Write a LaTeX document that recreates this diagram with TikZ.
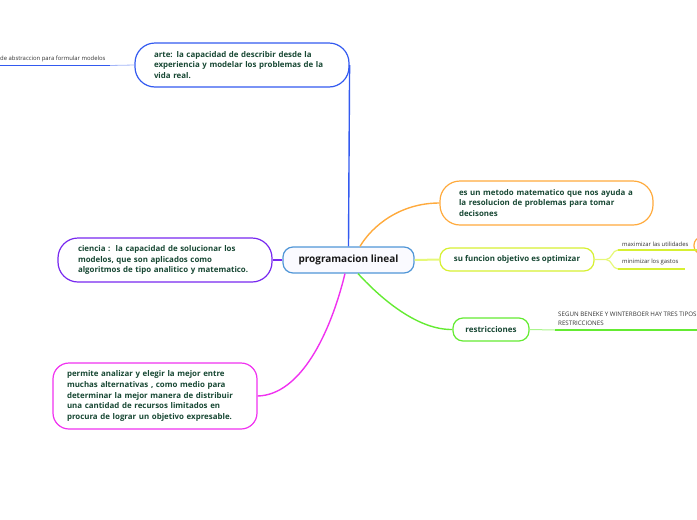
\documentclass[tikz,border=0pt]{standalone}
\usepackage{fontspec}
\setmainfont{Open Sans}
\usetikzlibrary{calc}
\definecolor{txt}{RGB}{24,72,52}
\definecolor{cblue}{RGB}{51,90,240}
\definecolor{corange}{RGB}{255,170,60}
\definecolor{cyellow}{RGB}{215,240,50}
\definecolor{cyellowl}{RGB}{230,248,120}
\definecolor{cgreen}{RGB}{100,235,50}
\definecolor{cgreenl}{RGB}{170,245,140}
\definecolor{cpurple}{RGB}{120,40,240}
\definecolor{cmagenta}{RGB}{240,50,240}
\definecolor{ccentral}{RGB}{80,150,215}
\begin{document}
\begin{tikzpicture}[x=1pt,y=-1pt,
  topic/.style={draw, line width=1.2pt, rounded corners=16pt, fill=white, text=txt,
    font=\fontsize{7.9}{10.9}\selectfont\bfseries, align=left, inner ysep=2pt},
  small/.style={font=\fontsize{5.9}{9}\selectfont, text=black!80, inner sep=0pt, align=left},
  conn/.style={line width=1.4pt}]
\useasboundingbox (0,0) rectangle (697,520);
\begin{scope}
\clip (0,0) rectangle (697,520);

% central
\node[draw=ccentral, line width=1.2pt, rounded corners=10pt, fill=blue!2,
  minimum width=131pt, minimum height=26pt, inner sep=0pt,
  font=\fontsize{10}{12}\selectfont\bfseries, text=black!90] (center) at (348.5,260) {programacion lineal};

% arte
\node[topic, draw=cblue, text width=176pt, inner xsep=19pt, minimum height=44pt, rounded corners=20pt] (arte) at (242,65)
 {arte: la capacidad de describir desde la\\experiencia y modelar los problemas de la\\vida real.};

% orange
\node[topic, draw=corange, text width=175pt, inner xsep=19pt, minimum height=44pt, rounded corners=20pt] (orange) at (546.5,203)
 {es un metodo matematico que nos ayuda a\\la resolucion de problemas para tomar\\decisones};

% yellow
\node[topic, draw=cyellow, minimum width=154pt, minimum height=23pt, inner sep=0pt, rounded corners=10pt, align=center] (yellow) at (517,259.5)
 {su funcion objetivo es optimizar};

% green
\node[topic, draw=cgreen, minimum width=76pt, minimum height=23pt, inner sep=0pt, rounded corners=10pt, align=center,
  font=\fontsize{8}{10}\selectfont\bfseries] (green) at (491,329.5)
 {restricciones};

% purple
\node[topic, draw=cpurple, text width=174pt, inner xsep=20pt, minimum height=44pt, rounded corners=20pt] (ciencia) at (165,260)
 {ciencia :\ \ la capacidad de solucionar los\\modelos, que son aplicados como\\algoritmos de tipo analitico y matematico.};

% magenta
\node[topic, draw=cmagenta, text width=176pt, inner xsep=14pt, minimum height=66pt, rounded corners=16pt] (permite) at (155,396)
 {permite analizar y elegir la mejor entre\\muchas alternativas , como medio para\\determinar la mejor manera de distribuir\\una cantidad de recursos limitados en\\procura de lograr un objetivo expresable.};

% partial orange node at right edge
\node[draw=corange, line width=1.2pt, rounded corners=8pt, minimum width=60pt, minimum height=17pt, inner sep=0pt] (edge) at (724,245.5) {};

% connectors
\draw[conn, cblue] (arte.east) -- (center.north);
\draw[conn, corange] ($(center.north)+(11.5,0)$) .. controls (372,226) and (400,203) .. (orange.west);
\draw[conn, cyellowl, line width=2pt] (center.east) -- (yellow.west);
\draw[conn, cgreen] ($(center.south)+(9.5,0)$) .. controls (385,303) and (420,330) .. (green.west);
\draw[conn, cmagenta] ($(center.south)+(-3.5,0)$) .. controls (330,335) and (300,395) .. (permite.east);
\draw[conn, cpurple] (center.west) -- (ciencia.east);

% arte left branch
\coordinate (al) at (110,65.5);
\coordinate (aend) at (0,65.5);
\draw[line width=0.8pt, cblue!45] (arte.west) -- (al);
\draw[line width=1.6pt, cblue] (al) -- (aend);
\node[small, anchor=south west] (atext) at (0,62.5) {de abstraccion para formular modelos};

% yellow sub branches
\coordinate (yb) at (606,259.5);
\coordinate (ym1) at (618,250);
\coordinate (ym2) at (697,250);
\coordinate (yn1) at (618,269);
\coordinate (yn2) at (685,269);
\draw[line width=1.2pt, cyellowl] (yellow.east) -- (yb) .. controls (612,259.5) and (612,250) .. (ym1);
\draw[line width=1.2pt, cyellowl] (yb) .. controls (612,259.5) and (612,269) .. (yn1);
\draw[line width=2pt, cyellow] (ym1) -- (ym2);
\draw[line width=2pt, cyellow] (yn1) -- (yn2);
\node[small, anchor=south west] (maxt) at (622,246.5) {maximizar las utilidades};
\node[small, anchor=south west] (mint) at (622,265.5) {minimizar los gastos};

% green sub branch
\coordinate (gb) at (555,330);
\coordinate (gend) at (697,330);
\draw[line width=1pt, cgreenl] (green.east) -- (gb);
\draw[line width=2pt, cgreen] (gb) -- (gend);
\node[small, anchor=south west, font=\fontsize{6.2}{9.2}\selectfont] (segun) at (558,325.5) {SEGUN BENEKE Y WINTERBOER HAY TRES TIPOS\\RESTRICCIONES};
\end{scope}
\end{tikzpicture}
\end{document}
